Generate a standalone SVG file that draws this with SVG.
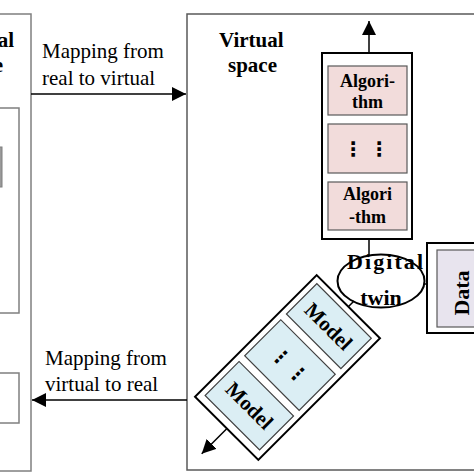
<svg xmlns="http://www.w3.org/2000/svg" width="474" height="474" viewBox="0 0 474 474">
<style>
.reg{font-family:"Liberation Serif","Times New Roman",serif;font-size:21px;fill:#000}
.b{font-family:"Liberation Serif","Times New Roman",serif;font-weight:bold;fill:#000}
.dots{font-family:"DejaVu Sans",sans-serif;font-weight:bold;font-size:20px;fill:#000}
.panelL{fill:#fff;stroke:#7f7f7f;stroke-width:1.5}
.panelV{fill:#fff;stroke:#595959;stroke-width:1.5}
.outer{fill:#fff;stroke:#000;stroke-width:2}
.alg{fill:#f2dcdb;stroke:#595959;stroke-width:1.2}
.mod{fill:#dbeef4;stroke:#404040;stroke-width:1.2}
.dat{fill:#e8e4ee;stroke:#595959;stroke-width:1.2}
.conn{stroke:#000;stroke-width:1.5;fill:none}
</style>
<defs>
<marker id="ah" markerUnits="userSpaceOnUse" markerWidth="14" markerHeight="14" viewBox="0 0 14 14" refX="14" refY="7" orient="auto">
<path d="M0,0 L14,7 L0,14 z" fill="#000"/>
</marker>
</defs>
<rect width="474" height="474" fill="#fff"/>

<g id="real-space">
<rect class="panelL" x="-20" y="14" width="51" height="457"/>
<text class="b" x="14" y="47" font-size="21" text-anchor="end">Real</text>
<text class="b" x="3" y="72" font-size="21" text-anchor="end">space</text>
<rect class="panelL" x="-20" y="108" width="39" height="205"/>
<rect x="-6" y="147" width="8" height="40" fill="#9a9a9a" stroke="#7f7f7f"/>
<rect class="panelL" x="-20" y="373" width="39" height="50"/>
</g>

<g id="virtual-space">
<rect class="panelV" x="187" y="14" width="300" height="456"/>
<text class="b" x="219" y="47" font-size="21">Virtual</text>
<text class="b" x="228" y="72" font-size="21">space</text>
</g>

<g id="algorithms">
<rect class="outer" x="322" y="53" width="90" height="186"/>
<rect class="alg" x="328" y="66" width="79" height="49"/>
<text class="b" x="367.5" y="87" font-size="18" text-anchor="middle">Algori-</text>
<text class="b" x="367.5" y="108" font-size="18" text-anchor="middle">thm</text>
<rect class="alg" x="328" y="124" width="79" height="49"/>
<text class="dots" x="353" y="156" text-anchor="middle">⋮</text>
<text class="dots" x="379" y="156" text-anchor="middle">⋮</text>
<rect class="alg" x="328" y="182" width="79" height="48"/>
<text class="b" x="367.5" y="200" font-size="18" text-anchor="middle">Algori</text>
<text class="b" x="367.5" y="223" font-size="18" text-anchor="middle">-thm</text>
</g>

<g id="digital-twin">
<ellipse cx="381" cy="281" rx="43.5" ry="26.5" fill="#fff" stroke="#000" stroke-width="2"/>
<text class="b" x="385" y="269" font-size="22" text-anchor="middle" textLength="76" lengthAdjust="spacing">Digital</text>
<text class="b" x="381" y="305" font-size="22" text-anchor="middle">twin</text>
</g>

<g id="data">
<rect class="outer" x="427" y="243" width="60" height="90"/>
<rect class="dat" x="437" y="250" width="50" height="77"/>
<text class="b" font-size="22" text-anchor="middle" transform="translate(469,293) rotate(-90)">Data</text>
</g>

<g id="models" transform="translate(287.5,367.5) rotate(45)">
<rect class="outer" x="-44.75" y="-86" width="89.5" height="172"/>
<rect class="mod" x="-38.5" y="-80" width="77" height="43"/>
<text class="b" x="0" y="-51" font-size="21" text-anchor="middle">Model</text>
<rect class="mod" x="-38.5" y="-29" width="77" height="51"/>
<text class="dots" x="-12" y="4" text-anchor="middle">⋮</text>
<text class="dots" x="12" y="4" text-anchor="middle">⋮</text>
<rect class="mod" x="-38.5" y="30" width="77" height="48"/>
<text class="b" x="0" y="61" font-size="21" text-anchor="middle">Model</text>
</g>

<g id="connectors">
<line class="conn" x1="31" y1="94" x2="186" y2="94" marker-end="url(#ah)"/>
<text class="reg" x="42" y="58">Mapping from</text>
<text class="reg" x="42" y="85">real to virtual</text>
<line class="conn" x1="187" y1="400" x2="32" y2="400" marker-end="url(#ah)"/>
<text class="reg" x="45" y="365">Mapping from</text>
<text class="reg" x="45" y="391">virtual to real</text>
<line class="conn" x1="369" y1="53" x2="369" y2="21" marker-end="url(#ah)"/>
<line class="conn" x1="369" y1="239" x2="369" y2="255"/>
<line class="conn" x1="424" y1="284" x2="427" y2="284"/>
<line class="conn" x1="348.3" y1="306.7" x2="354" y2="301"/>
<line class="conn" x1="227" y1="428.5" x2="201.7" y2="453.8" marker-end="url(#ah)"/>
</g>
</svg>
